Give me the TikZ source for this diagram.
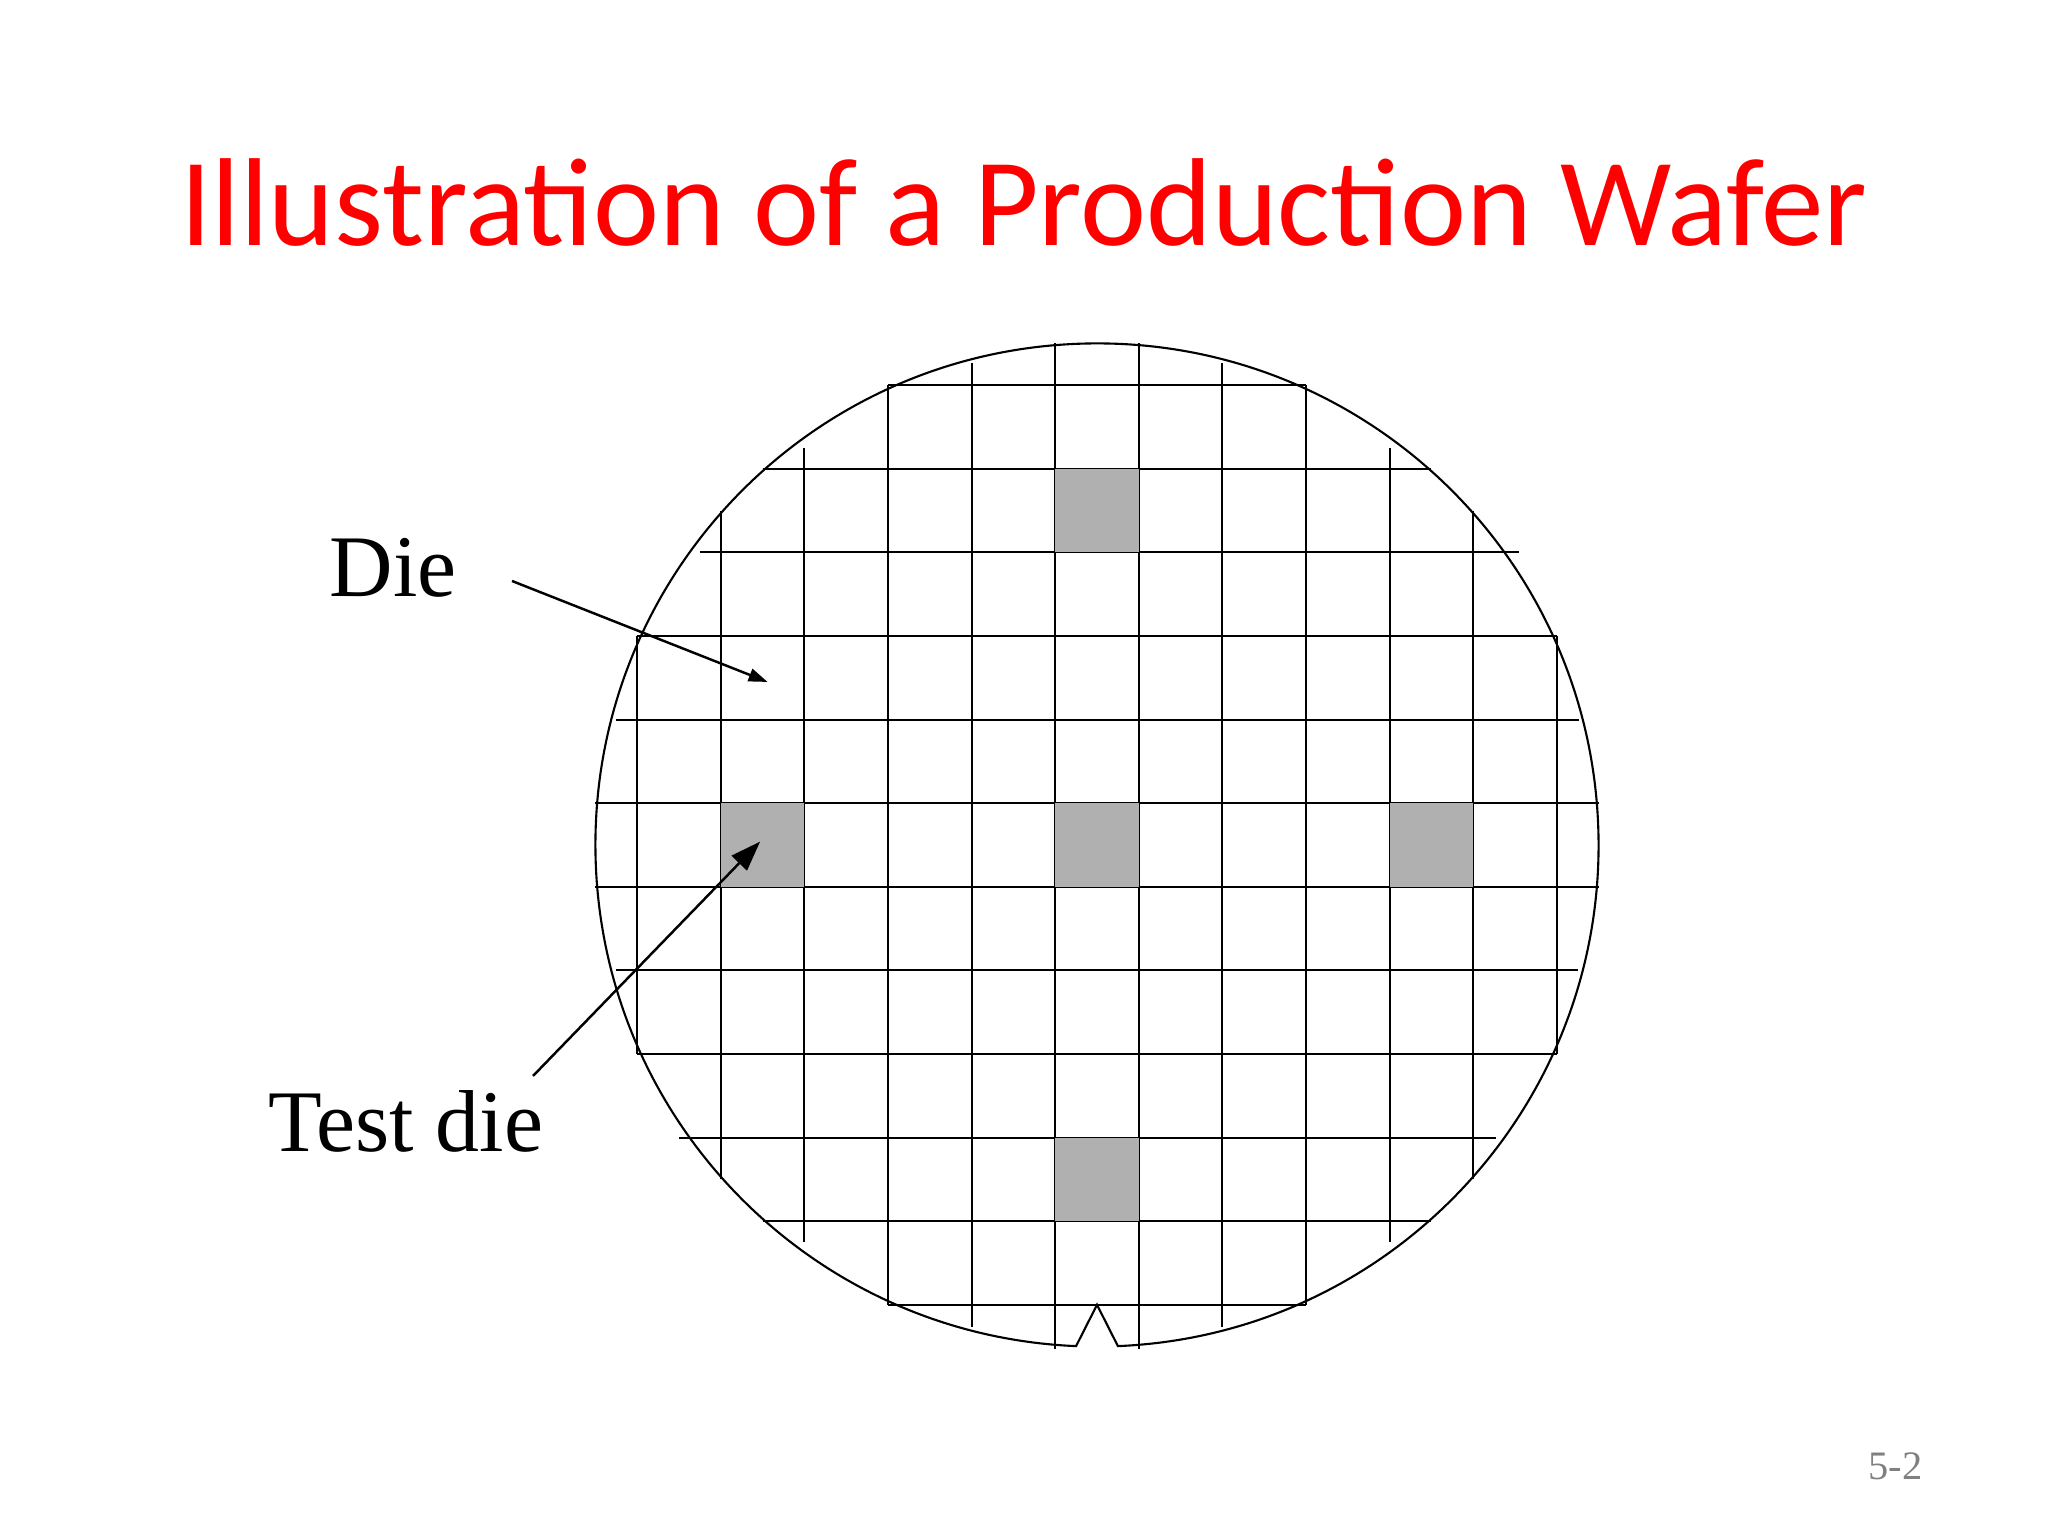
\documentclass[tikz,border=0pt]{standalone}
\usepackage{fontspec}
\setmainfont{Liberation Serif}
\newfontfamily\titlefont{Carlito}
\usetikzlibrary{arrows.meta}

\begin{document}
\begin{tikzpicture}[
    gridline/.style={black,line width=0.6pt},
    testdie/.style={fill=black!31},
    pointer/.style={black,line width=0.7pt},
    label/.style={anchor=base west,inner sep=0pt,font=\fontsize{25}{28}\selectfont},
  ]
  \useasboundingbox (0,0) rectangle (20.48,15.36);

  \node[anchor=base,text=red,font=\titlefont\fontsize{35.6}{38}\selectfont] (title) at (10.24,12.90) {Illustration of a Production Wafer};

  \begin{scope}[shift={(10.97,6.91)},x=0.836cm,y=0.836cm]
    \draw[gridline] (-87.61:6) arc[start angle=-87.61,end angle=267.61,radius=6] -- (0,-5.5) -- cycle; % perem, bemetszes
    \foreach \y/\xa/\xb in {5.5/-2.5/2.5, 4.5/-4/4, 3.5/-4.75/5.05, 2.5/-5.5/5.5, 1.5/-5.75/5.77, 0.5/-6/6,
                            -0.5/-6/6, -1.5/-5.75/5.75, -2.5/-5.5/5.5, -3.5/-5/4.77, -4.5/-4/4, -5.5/-2.5/2.5}
      \draw[gridline] (\xa,\y) -- (\xb,\y); % sorok
    \foreach \x/\ya/\yb in {-5.5/-2.5/2.5, -4.5/-4/4, -3.5/-4.75/4.75, -2.5/-5.5/5.5, -1.5/-5.77/5.77, -0.5/-6.03/6,
                            0.5/-6.03/6, 1.5/-5.77/5.77, 2.5/-5.5/5.5, 3.5/-4.75/4.75, 4.5/-4/4, 5.5/-2.5/2.5}
      \draw[gridline] (\x,\ya) -- (\x,\yb); % oszlopok
    \foreach \cx/\cy in {0/4, -4/0, 0/0, 4/0, 0/-4}
      \fill[testdie] (\cx-0.5,\cy-0.5) rectangle (\cx+0.5,\cy+0.5);
    \coordinate (die) at (0.06-4,1.95);
    \coordinate (testdie) at (-0.03-4,0.04);
  \end{scope}

  \coordinate (dietail) at (5.12,9.55);
  \coordinate (testtail) at (5.33,4.60);

  \node[label] (dielabel) at (3.29,9.39) {Die};
  \node[label] (testlabel) at (2.68,3.84) {Test die};
  \node[anchor=base east,inner sep=0pt,text=black!50,font=\fontsize{11.5}{13}\selectfont] (pagenum) at (19.23,0.56) {5-2};

  \draw[pointer,-{Triangle[length=1.9mm,width=1.3mm]}] (dietail) -- (die);
  \draw[pointer,-{Triangle[length=3mm,width=2.1mm]}] (testtail) -- (testdie);

\end{tikzpicture}
\end{document}
